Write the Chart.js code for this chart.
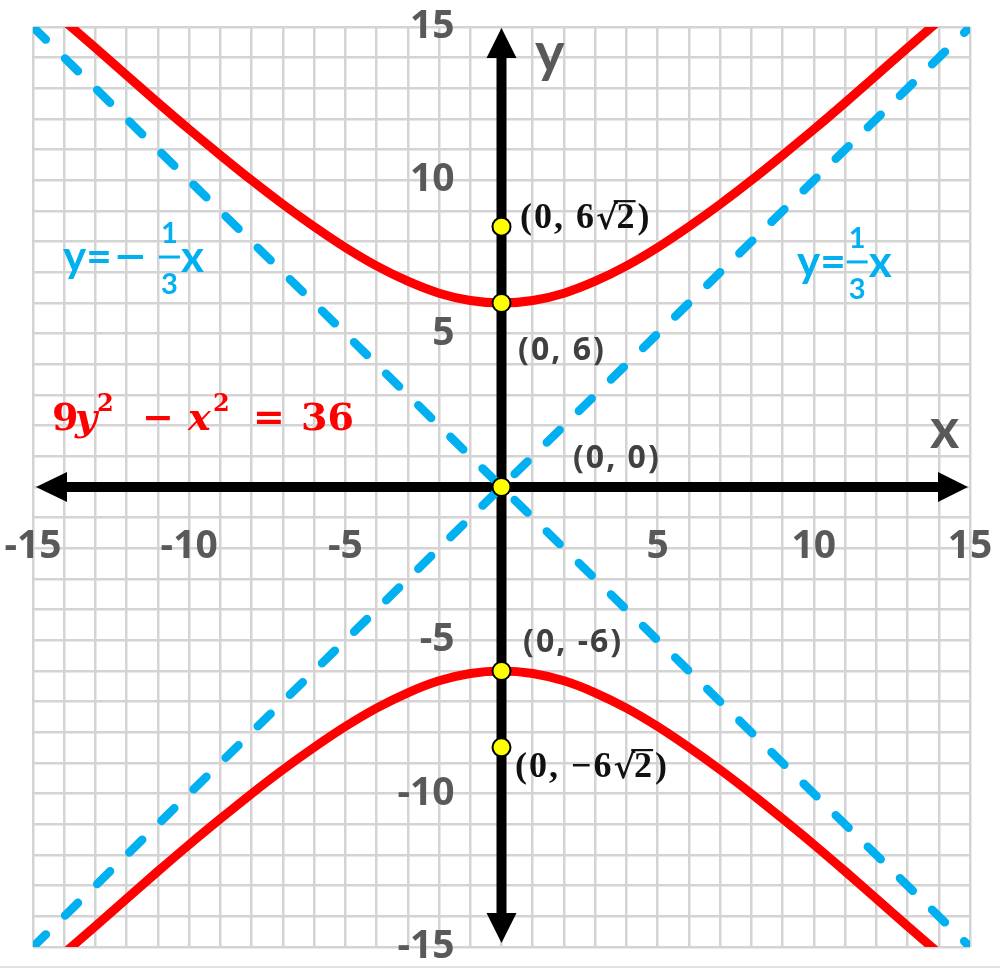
<!DOCTYPE html>
<html><head><meta charset="utf-8">
<script src="https://cdn.jsdelivr.net/npm/chart.js@4.4.1/dist/chart.umd.min.js"></script>
<style>html,body{margin:0;padding:0;background:#fff;overflow:hidden}#wrap{width:1000px;height:969px;position:relative}</style>
</head><body><div id="wrap"><canvas id="c"></canvas></div>
<script>
// ---- data ----
const hypX   = [-14,-13,-12,-11,-10,-9,-8,-7,-6,-5,-4,-3,-2,-1,0,1,2,3,4,5,6,7,8,9,10,11,12,13,14];
const upperY = [15.2,14.32,13.42,12.53,11.66,10.82,10.0,9.22,8.49,7.81,7.21,6.71,6.32,6.08,6.0,6.08,6.32,6.71,7.21,7.81,8.49,9.22,10.0,10.82,11.66,12.53,13.42,14.32,15.2];
const lowerY = [-15.2,-14.32,-13.42,-12.53,-11.66,-10.82,-10.0,-9.22,-8.49,-7.81,-7.21,-6.71,-6.32,-6.08,-6.0,-6.08,-6.32,-6.71,-7.21,-7.81,-8.49,-9.22,-10.0,-10.82,-11.66,-12.53,-13.42,-14.32,-15.2];
const asymX  = [-15, 15];
const asymDownY = [15, -15];
const asymUpY   = [-15, 15];
const keyX = [0, 0, 0, 0, 0];
const keyY = [8.49, 6, 0, -6, -8.49];
const tickValues = [-15, -10, -5, 5, 10, 15];
const axisMin = -15, axisMax = 15;

const zip = (xs, ys) => xs.map((x, i) => ({x, y: ys[i]}));

const RED = '#ff0000', BLUE = '#00b0f0', GRIDC = '#d4d4d4', TICKC = '#595959', LBLC = '#404040';

function tickCb(v) { return tickValues.includes(v) ? String(v) : ''; }
function noPad(scale) { scale.paddingLeft = 0; scale.paddingRight = 0; scale.paddingTop = 0; scale.paddingBottom = 0; }

const decor = {
  id: 'decor',
  beforeDraw(chart) {
    const ctx = chart.ctx;
    ctx.save();
    ctx.fillStyle = '#fff';
    ctx.fillRect(0, 0, chart.width, chart.height);
    ctx.strokeStyle = '#d8d8d8';
    ctx.lineWidth = 1.5;
    ctx.beginPath(); ctx.moveTo(0, chart.height - 2); ctx.lineTo(chart.width, chart.height - 2); ctx.stroke();
    ctx.restore();
  },
  beforeDatasetsDraw(chart) {
    const ctx = chart.ctx, xs = chart.scales.x, ys = chart.scales.y;
    const x0 = xs.getPixelForValue(0), y0 = ys.getPixelForValue(0);
    const L = xs.getPixelForValue(axisMin), R = xs.getPixelForValue(axisMax);
    const T = ys.getPixelForValue(axisMax), B = ys.getPixelForValue(axisMin);
    ctx.save();
    ctx.strokeStyle = '#000'; ctx.fillStyle = '#000'; ctx.lineWidth = 10; ctx.lineCap = 'butt';
    ctx.beginPath();
    ctx.moveTo(L + 30, y0); ctx.lineTo(R - 30, y0);
    ctx.moveTo(x0, T + 28); ctx.lineTo(x0, B - 30);
    ctx.stroke();
    const tri = (a, b, c) => { ctx.beginPath(); ctx.moveTo(a[0], a[1]); ctx.lineTo(b[0], b[1]); ctx.lineTo(c[0], c[1]); ctx.closePath(); ctx.fill(); };
    tri([L + 3, y0], [L + 34, y0 - 15], [L + 34, y0 + 15]);
    tri([R - 2, y0], [R - 32, y0 - 15], [R - 32, y0 + 15]);
    tri([x0, T + 1], [x0 - 15, T + 31], [x0 + 15, T + 31]);
    tri([x0, B - 4], [x0 - 15, B - 34], [x0 + 15, B - 34]);
    ctx.restore();
  },
  afterDatasetsDraw(chart) {
    const ctx = chart.ctx, xs = chart.scales.x, ys = chart.scales.y;
    const X = v => xs.getPixelForValue(v), Y = v => ys.getPixelForValue(v);
    ctx.save();
    ctx.textBaseline = 'alphabetic';
    ctx.textAlign = 'left';
    // axis names
    ctx.fillStyle = TICKC;
    ctx.font = 'bold 56px Lato';
    ctx.fillText('x', X(13.72), Y(1.27));
    ctx.fillText('y', X(1.07), Y(13.53));
    // point labels (sans)
    ctx.fillStyle = LBLC;
    ctx.font = 'bold 32px "Open Sans"';
    ctx.letterSpacing = '2px';
    ctx.fillText('(0, 6)', X(0.53), Y(4.14));
    ctx.fillText('(0, 0)', X(2.29), Y(0.62));
    ctx.fillText('(0, -6)', X(0.69), Y(-5.38));
    ctx.letterSpacing = '0px';
    // sqrt labels (serif)
    const sqrtLabel = (pre, x, y) => {
      ctx.fillStyle = '#111';
      ctx.font = 'bold 36px "Liberation Serif"';
      ctx.letterSpacing = '2px';
      let cx = x;
      ctx.fillText(pre, cx, y); cx += ctx.measureText(pre).width;
      ctx.letterSpacing = '0px';
      ctx.font = 'bold 33px "DejaVu Serif"';
      ctx.fillText('\u221A', cx, y + 1); const ws = ctx.measureText('\u221A').width;
      const vStart = cx + ws * 0.82; cx += ws - 1;
      ctx.font = 'bold 36px "Liberation Serif"';
      ctx.fillText('2', cx, y); cx += ctx.measureText('2').width;
      ctx.strokeStyle = '#111'; ctx.lineWidth = 2.2;
      ctx.beginPath(); ctx.moveTo(vStart, y - 27); ctx.lineTo(cx + 1, y - 27); ctx.stroke();
      cx += 3;
      ctx.fillText(')', cx, y);
    };
    sqrtLabel('(0, 6', X(0.59), Y(8.44));
    sqrtLabel('(0, \u22126', X(0.43), Y(-9.46));
    // equation
    ctx.fillStyle = RED;
    const ex = X(-14.39), ey = Y(1.86);
    const up = 'bold 38px "DejaVu Serif"', it = 'italic bold 38px "DejaVu Serif"', sup = 'bold 24px "DejaVu Serif"';
    const parts = [['9', up, 0, 0], ['y', it, 23, 0], ['2', sup, 45, -19], ['\u2212', up, 90, 0], ['x', it, 136, 0], ['2', sup, 161, -19], ['=', up, 201, 0], ['36', up, 249, 0]];
    parts.forEach(p => { ctx.font = p[1]; ctx.fillText(p[0], ex + p[2], ey + p[3]); });
    // asymptote labels
    const blueLabel = (x, y, neg) => {
      ctx.fillStyle = BLUE; ctx.strokeStyle = BLUE;
      ctx.font = 'bold 44px Lato';
      let cx = x;
      ctx.fillText('y=', cx, y); cx += ctx.measureText('y=').width;
      if (neg) {
        const wm = ctx.measureText('\u2212').width;
        ctx.save();
        ctx.translate(cx + 2, y);
        ctx.scale(1.3, 1);
        ctx.fillText('\u2212', 0, 0);
        ctx.restore();
        cx += wm * 1.3 + 14;
      } else {
        cx += 1;
      }
      const fw = 21;
      ctx.lineWidth = 3;
      ctx.beginPath(); ctx.moveTo(cx, y - 15); ctx.lineTo(cx + fw, y - 15); ctx.stroke();
      ctx.font = 'bold 29px Lato';
      ctx.textAlign = 'center';
      ctx.fillText('1', cx + fw / 2, y - 29);
      ctx.fillText('3', cx + fw / 2, y + 22);
      ctx.textAlign = 'left';
      cx += fw + 1;
      ctx.font = 'bold 44px Lato';
      ctx.fillText('x', cx, y);
    };
    blueLabel(X(-14.04), Y(7.01), true);
    blueLabel(X(9.46), Y(6.85), false);
    ctx.restore();
  }
};

const tickFont = { family: '"Open Sans"', size: 39, weight: 'bold' };

new Chart(document.getElementById('c'), {
  type: 'scatter',
  data: {
    datasets: [
      { label: 'points', data: zip(keyX, keyY), showLine: false, pointRadius: 9, pointHoverRadius: 9,
        pointBackgroundColor: '#ffff00', pointBorderColor: '#000', pointBorderWidth: 2, order: 0, clip: false },
      { label: 'upper', data: zip(hypX, upperY), showLine: true, borderColor: RED, borderWidth: 9,
        pointRadius: 0, cubicInterpolationMode: 'monotone', order: 1, clip: 0 },
      { label: 'lower', data: zip(hypX, lowerY), showLine: true, borderColor: RED, borderWidth: 9,
        pointRadius: 0, cubicInterpolationMode: 'monotone', order: 1, clip: 0 },
      { label: 'asym1', data: zip(asymX, asymDownY), showLine: true, borderColor: BLUE, borderWidth: 8.5,
        borderDash: [18, 27], borderCapStyle: 'round', pointRadius: 0, order: 2, clip: 0 },
      { label: 'asym2', data: zip(asymX, asymUpY), showLine: true, borderColor: BLUE, borderWidth: 8.5,
        borderDash: [18, 27], borderCapStyle: 'round', pointRadius: 0, order: 2, clip: 0 }
    ]
  },
  options: {
    responsive: true, maintainAspectRatio: false, animation: false,
    layout: { padding: { left: 33, right: 30, top: 27, bottom: 22 } },
    plugins: { legend: { display: false }, tooltip: { enabled: false } },
    events: [],
    scales: {
      x: {
        type: 'linear', min: axisMin, max: axisMax, position: { y: 0 },
        afterFit: noPad,
        grid: { color: GRIDC, lineWidth: 2.5, drawTicks: false },
        border: { display: false },
        ticks: { stepSize: 1, autoSkip: false, maxRotation: 0, callback: tickCb, padding: 36,
                 color: TICKC, font: tickFont }
      },
      y: {
        type: 'linear', min: axisMin, max: axisMax, position: { x: -1.5 },
        afterFit: noPad,
        grid: { color: GRIDC, lineWidth: 2.5, drawTicks: false },
        border: { display: false },
        ticks: { stepSize: 1, autoSkip: false, callback: tickCb, padding: 0,
                 color: TICKC, font: tickFont }
      }
    }
  },
  plugins: [decor]
});
</script>
</body></html>
